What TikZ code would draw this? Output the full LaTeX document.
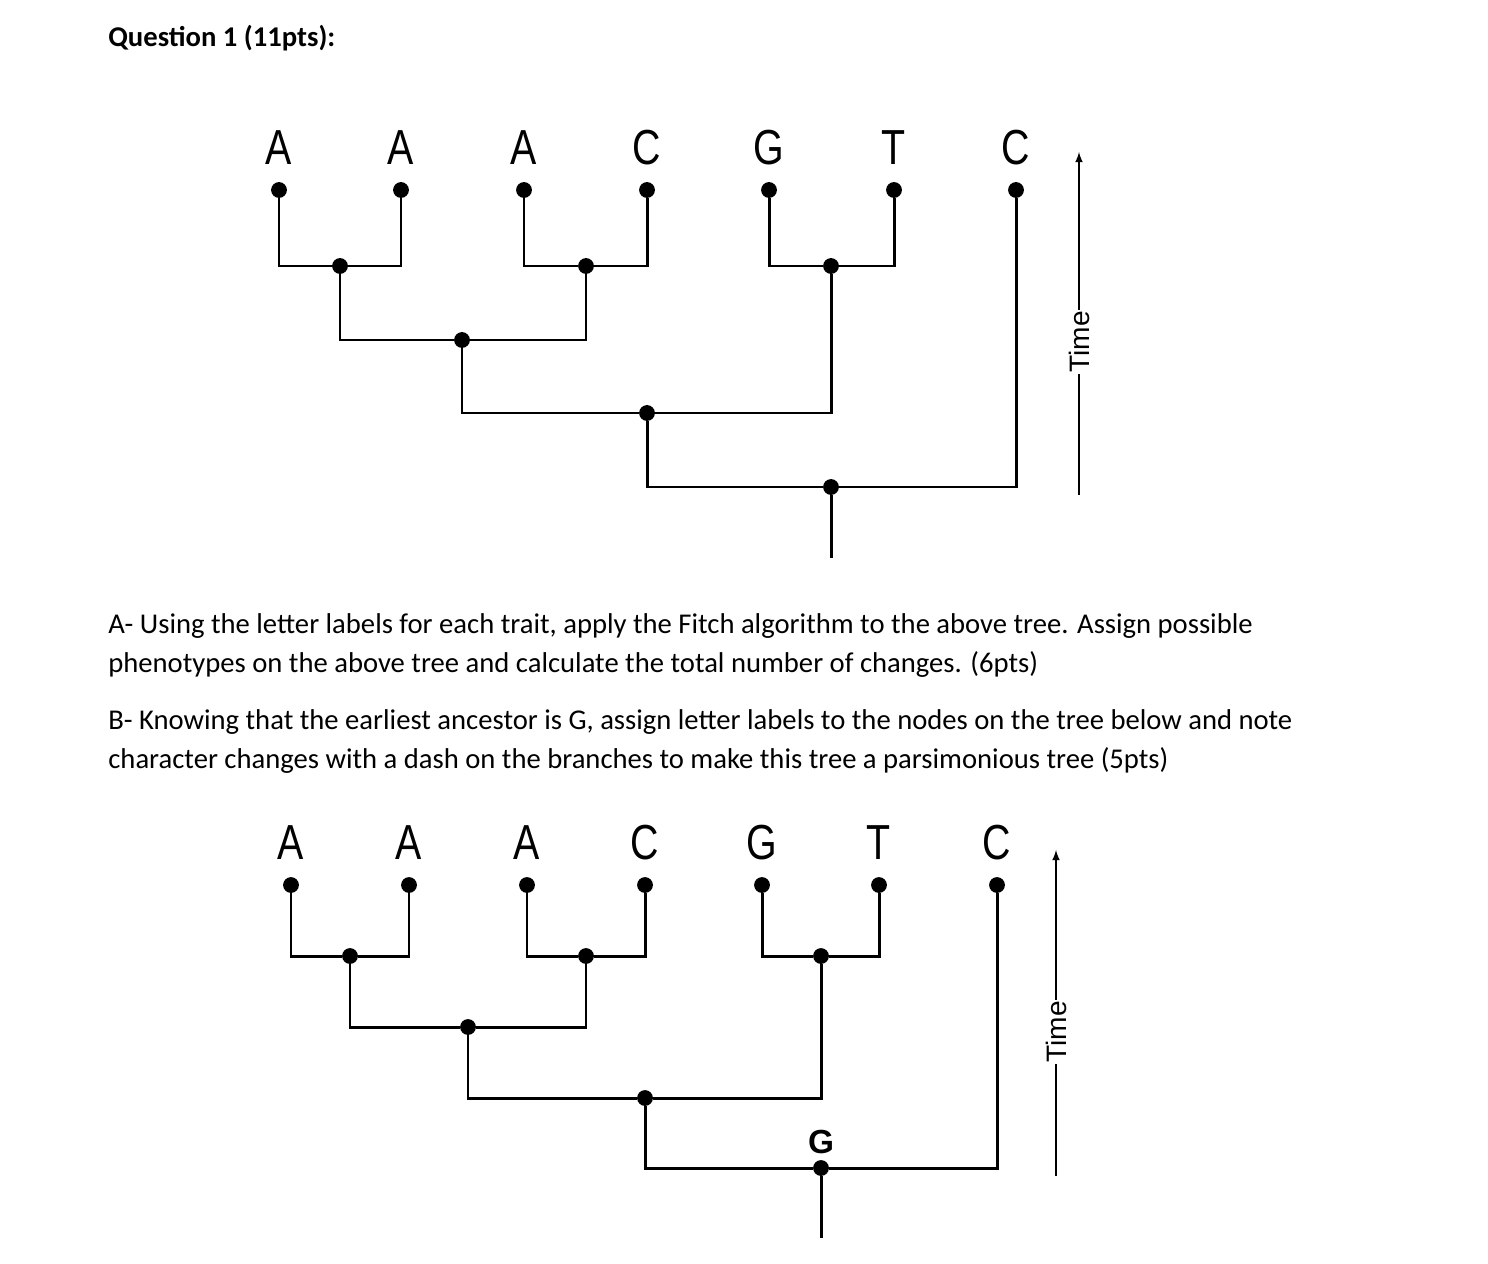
\documentclass[tikz,border=0pt]{standalone}
\usepackage{fontspec}
\setmainfont{Carlito}
\newfontfamily\leaffont{Liberation Sans}
\newcommand\narrowtext[1]{\scalebox{0.8}[1]{#1}}
\begin{document}
\begin{tikzpicture}[x=0.02cm,y=-0.02cm,
	branch/.style={line width=1.7pt},
	dot/.style={circle, fill=black, inner sep=0pt, minimum size=9pt},
	leaf/.style={font=\leaffont\fontsize{28}{30}\selectfont, inner sep=0pt},
	para/.style={anchor=west, inner sep=0pt, font=\fontsize{16.3}{19}\selectfont}]

	% Frame
	\useasboundingbox (0,0) rectangle (1488,1264);

	% Texts
	\node [para, font=\bfseries\fontsize{16.3}{19}\selectfont] (q) at (108,38) {Question 1 (11pts):};
	\node [para] (a1) at (108,626) {A- Using the letter labels for each trait, apply the Fitch algorithm to the above tree. Assign possible};
	\node [para] (a2) at (108,664) {phenotypes on the above tree and calculate the total number of changes. (6pts)};
	\node [para] (b1) at (108,722) {B- Knowing that the earliest ancestor is G, assign letter labels to the nodes on the tree below and note};
	\node [para] (b2) at (108,760) {character changes with a dash on the branches to make this tree a parsimonious tree (5pts)};

	% Upper tree
	\foreach \n/\x/\l in {1/279/A, 2/401/A, 3/524/A, 4/647/C, 5/769/G, 6/894/T, 7/1016/C} {
		\node [leaf] (ul\n) at (\x,148) {\narrowtext{\l}};
		\node [dot] (u\n) at (\x,190) {};
	}
	\node [dot] (u12) at (340,266) {};
	\node [dot] (u34) at (586,266) {};
	\node [dot] (u56) at (831,266) {};
	\node [dot] (u14) at (462,340) {};
	\node [dot] (u16) at (647,413) {};
	\node [dot] (u17) at (831,487) {};
	\coordinate (uroot) at (831,558);
	\draw [branch] (u1) |- (u12) -| (u2);
	\draw [branch] (u3) |- (u34) -| (u4);
	\draw [branch] (u5) |- (u56) -| (u6);
	\draw [branch] (u12) |- (u14) -| (u34);
	\draw [branch] (u14) |- (u16) -| (u56);
	\draw [branch] (u16) |- (u17) -| (u7);
	\draw [branch] (u17) -- (uroot);

	% Upper time axis
	\coordinate (ut0) at (1079,495);
	\coordinate (ut1) at (1079,152);
	\draw [-latex, line width=1pt] (ut0) -- (ut1);
	\node [fill=white, rotate=90, inner sep=1pt, font=\leaffont\fontsize{16}{18}\selectfont] (utime) at (1079,342) {Time};

	% Lower tree
	\foreach \n/\x/\l in {1/291/A, 2/409/A, 3/527/A, 4/645/C, 5/762/G, 6/879/T, 7/997/C} {
		\node [leaf] (ll\n) at (\x,843) {\narrowtext{\l}};
		\node [dot] (l\n) at (\x,885) {};
	}
	\node [dot] (l12) at (350,956) {};
	\node [dot] (l34) at (586,956) {};
	\node [dot] (l56) at (821,956) {};
	\node [dot] (l14) at (468,1027) {};
	\node [dot] (l16) at (645,1098) {};
	\node [dot] (l17) at (821,1168) {};
	\coordinate (lroot) at (821,1238);
	\draw [branch] (l1) |- (l12) -| (l2);
	\draw [branch] (l3) |- (l34) -| (l4);
	\draw [branch] (l5) |- (l56) -| (l6);
	\draw [branch] (l12) |- (l14) -| (l34);
	\draw [branch] (l14) |- (l16) -| (l56);
	\draw [branch] (l16) |- (l17) -| (l7);
	\draw [branch] (l17) -- (lroot);
	\node [font=\leaffont\bfseries\fontsize{19}{21}\selectfont, inner sep=0pt] (lg) at (821,1142) {G};

	% Lower time axis
	\coordinate (lt0) at (1056,1176);
	\coordinate (lt1) at (1056,850);
	\draw [-latex, line width=1pt] (lt0) -- (lt1);
	\node [fill=white, rotate=90, inner sep=1pt, font=\leaffont\fontsize{16}{18}\selectfont] (ltime) at (1056,1032) {Time};

\end{tikzpicture}
\end{document}
